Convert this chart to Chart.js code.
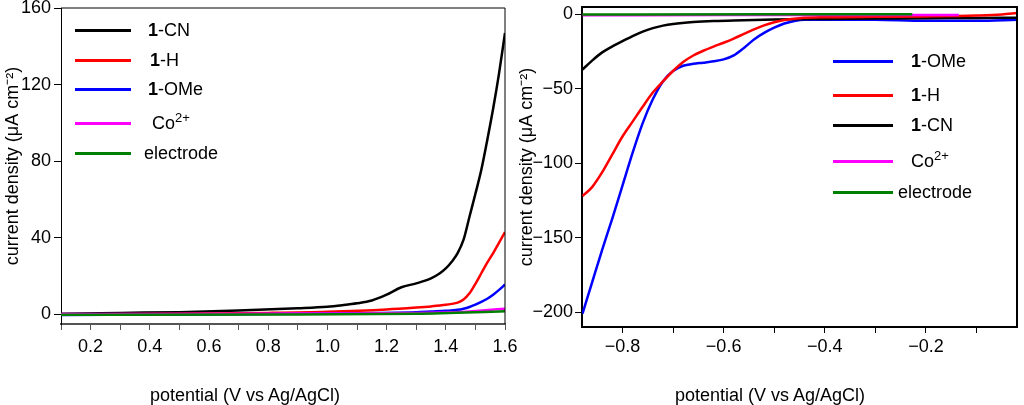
<!DOCTYPE html>
<html>
<head>
<meta charset="utf-8">
<script src="https://cdn.jsdelivr.net/npm/chart.js@4.4.1/dist/chart.umd.min.js"></script>
<style>
  html, body { margin: 0; padding: 0; background: #fff; }
  body { font-family: "Liberation Sans", Arial, sans-serif; color: #000; }
  #fig { position: relative; width: 1024px; height: 405px; overflow: hidden; }
  .panel { position: absolute; top: 0; height: 405px; }
  #pL { left: 0; width: 530px; }
  #pR { left: 500px; width: 524px; }
  .xtitle { position: absolute; top: 384px; font-size: 18px; line-height: 22px; white-space: nowrap; }
  .key { position: absolute; height: 22px; font-size: 18px; line-height: 22px; white-space: nowrap; }
  .key .sw { position: absolute; left: 0; top: 9.5px; height: 3px; }
  .key .tx { position: absolute; top: 0; }
  .key sup { font-size: 13px; line-height: 0; vertical-align: 7px; }
</style>
</head>
<body>
<div id="fig">
  <div class="panel" id="pL"><canvas id="cL"></canvas></div>
  <div class="panel" id="pR"><canvas id="cR"></canvas></div>
  <div class="xtitle" style="left:150px">potential (V vs Ag/AgCl)</div>
  <div class="xtitle" style="left:675px">potential (V vs Ag/AgCl)</div>
</div>
<script>
// left panel: anodic scans (potential in V, current density in uA cm-2)
const anPotCN = [0.1, 0.3, 0.5, 0.7, 0.9, 1.0, 1.05, 1.1, 1.15, 1.2, 1.25, 1.3, 1.35, 1.38, 1.4, 1.42, 1.44, 1.46, 1.48, 1.5, 1.52, 1.54, 1.56, 1.58, 1.6];
const anCurCN = [0.3, 0.8, 1.2, 2.0, 3.2, 4.0, 4.8, 5.8, 7.3, 10.3, 14.2, 16.2, 18.8, 21.5, 24, 27.5, 32, 39, 51, 63, 75.5, 91, 107.5, 126, 147];
const anPotH = [0.1, 0.5, 0.8, 1.0, 1.2, 1.3, 1.35, 1.4, 1.42, 1.44, 1.46, 1.48, 1.5, 1.52, 1.54, 1.56, 1.58, 1.6];
const anCurH = [0.0, 0.3, 0.8, 1.4, 2.6, 3.6, 4.2, 5.0, 5.5, 6.2, 7.8, 11, 16, 21.5, 27, 32, 37.5, 43];
const anPotOMe = [0.1, 0.6, 1.0, 1.3, 1.35, 1.4, 1.44, 1.46, 1.48, 1.5, 1.52, 1.54, 1.56, 1.58, 1.6];
const anCurOMe = [-0.3, 0.0, 0.5, 1.1, 1.5, 1.9, 2.4, 3.0, 3.9, 5.1, 6.5, 8.2, 10.3, 12.8, 15.6];
const anPotCo = [0.1, 0.8, 1.4, 1.6];
const anCurCo = [0.2, 0.4, 1.0, 3.0];
const anPotEl = [0.1, 0.8, 1.3, 1.6];
const anCurEl = [-0.2, 0.0, 0.3, 1.6];

// right panel: cathodic scans
const caPotOMe = [-0.879, -0.86, -0.84, -0.82, -0.8, -0.78, -0.76, -0.74, -0.72, -0.7, -0.68, -0.66, -0.64, -0.62, -0.6, -0.58, -0.56, -0.54, -0.52, -0.5, -0.48, -0.46, -0.44, -0.4, -0.3, -0.2, -0.1, -0.02];
const caCurOMe = [-201, -180, -158, -137, -115, -93, -73, -57, -45, -38, -34.5, -33.2, -32.4, -31.5, -30.2, -27.5, -22.5, -16.8, -12.4, -8.9, -6.1, -4.4, -3.6, -3.5, -3.6, -4.3, -4.2, -3.6];
const caPotH = [-0.879, -0.86, -0.84, -0.82, -0.8, -0.78, -0.76, -0.74, -0.72, -0.7, -0.68, -0.66, -0.64, -0.62, -0.6, -0.58, -0.56, -0.54, -0.52, -0.5, -0.48, -0.45, -0.4, -0.3, -0.2, -0.1, -0.05, -0.02];
const caCurH = [-122, -116, -106, -94, -82, -72, -62, -52.5, -45, -38, -32, -27.6, -24.4, -21.6, -19, -16.2, -13.1, -10, -7.3, -5.2, -3.7, -2.5, -1.9, -1.6, -1.3, -0.7, 0, 1];
const caPotCN = [-0.879, -0.86, -0.84, -0.82, -0.8, -0.78, -0.76, -0.74, -0.72, -0.7, -0.66, -0.62, -0.56, -0.5, -0.4, -0.3, -0.2, -0.1, -0.02];
const caCurCN = [-37, -31, -25.5, -21.5, -18, -14.5, -11.5, -9.2, -7.5, -6.4, -5.1, -4.4, -3.9, -3.4, -3.0, -2.7, -2.5, -2.4, -2.2];
const caPotCo = [-0.879, -0.6, -0.3, -0.135];
const caCurCo = [-0.6, -0.4, -0.3, -0.3];
const caPotEl = [-0.879, -0.5, -0.227];
const caCurEl = [0, 0.1, 0.1];

// tick labels
const anXLabels = [0.2, 0.4, 0.6, 0.8, 1.0, 1.2, 1.4, 1.6];
const anYTicks = [0, 40, 80, 120, 160];
const caXLabels = [-0.8, -0.6, -0.4, -0.2];
const caYTicks = [-200, -150, -100, -50, 0];

const anLegend = ['1-CN', '1-H', '1-OMe', 'Co2+', 'electrode'];
const caLegend = ['1-OMe', '1-H', '1-CN', 'Co2+', 'electrode'];

const COLORS = { '1-CN': '#000000', '1-H': '#ff0000', '1-OMe': '#0000ff', 'Co2+': '#ff00ff', 'electrode': '#008000' };
const FONT = { family: '"Liberation Sans", Arial, sans-serif', size: 18 };
const YTITLE = 'current density (\u03bcA cm\u207b\u00b2)';

const minus = s => s.replace('-', '\u2212');

function series(name, xs, ys) {
  return {
    label: name,
    data: xs.map((x, i) => ({ x: x, y: ys[i] })),
    borderColor: COLORS[name],
    backgroundColor: COLORS[name],
    borderWidth: 2.5,
    pointRadius: 0,
    fill: false,
    cubicInterpolationMode: 'monotone'
  };
}

// top and right edges of the box round the plot
const framePlugin = {
  id: 'frame',
  afterDraw(chart, args, o) {
    const ctx = chart.ctx, a = chart.chartArea;
    ctx.save();
    ctx.strokeStyle = o.color;
    ctx.lineWidth = o.width;
    ctx.beginPath();
    ctx.moveTo(a.left, a.top);
    ctx.lineTo(a.right, a.top);
    ctx.lineTo(a.right, a.bottom);
    ctx.stroke();
    ctx.restore();
  }
};

// a tick every 0.1 V, labels only on the listed ones
function tenthTicks(s) {
  const out = [];
  for (let k = Math.ceil(s.min * 10 - 1e-9); k <= Math.floor(s.max * 10 + 1e-9); k++) out.push({ value: k / 10 });
  s.ticks = out;
}

function buildChart(id, datasets, c) {
  return new Chart(document.getElementById(id), {
    type: 'line',
    data: { datasets: datasets },
    plugins: [framePlugin],
    options: {
      responsive: true,
      maintainAspectRatio: false,
      animation: false,
      layout: { padding: c.pad },
      plugins: {
        legend: { display: false },
        tooltip: { enabled: false },
        frame: { color: '#000', width: c.frameW }
      },
      scales: {
        x: {
          type: 'linear',
          min: c.xMin,
          max: c.xMax,
          border: { color: c.xBorder, width: c.xBorderW },
          grid: { drawOnChartArea: false, tickLength: 6, tickColor: c.xBorder, tickWidth: 1 },
          ticks: {
            autoSkip: false,
            maxRotation: 0,
            padding: c.xPad,
            color: '#000',
            font: FONT,
            callback: v => c.xLabels.some(l => Math.abs(l - v) < 1e-6) ? minus(v.toFixed(1)) : ''
          },
          afterBuildTicks: tenthTicks,
          afterFit: s => { s.height = c.xH; s.paddingLeft = 0; s.paddingRight = 0; }
        },
        y: {
          type: 'linear',
          min: c.yMin,
          max: c.yMax,
          border: { color: '#000', width: c.yBorderW },
          grid: { drawOnChartArea: false, tickLength: 7, tickColor: '#000', tickWidth: 1 },
          ticks: {
            autoSkip: false,
            padding: c.yPad,
            color: '#000',
            font: FONT,
            callback: v => minus(String(v))
          },
          afterBuildTicks: s => { s.ticks = c.yTicks.map(v => ({ value: v })); },
          afterFit: s => { s.width = c.yW; s.paddingTop = 0; s.paddingBottom = 0; },
          title: { display: true, text: YTITLE, color: '#000', font: FONT, padding: { top: c.yTitlePad, bottom: 0 } }
        }
      }
    }
  });
}

buildChart('cL', [
  series('electrode', anPotEl, anCurEl),
  series('Co2+', anPotCo, anCurCo),
  series('1-OMe', anPotOMe, anCurOMe),
  series('1-H', anPotH, anCurH),
  series('1-CN', anPotCN, anCurCN)
], {
  pad: { left: 0, right: 25, top: 8, bottom: 0 },
  xMin: 0.1, xMax: 1.6, yMin: -5, yMax: 160,
  xLabels: anXLabels, yTicks: anYTicks,
  xBorder: '#555', xBorderW: 2, yBorderW: 1, frameW: 1,
  xPad: 6, yPad: 3, xH: 81, yW: 61, yTitlePad: 2
});

buildChart('cR', [
  series('electrode', caPotEl, caCurEl),
  series('Co2+', caPotCo, caCurCo),
  series('1-H', caPotH, caCurH),
  series('1-CN', caPotCN, caCurCN),
  series('1-OMe', caPotOMe, caCurOMe)
], {
  pad: { left: 0, right: 7, top: 7, bottom: 0 },
  xMin: -0.88, xMax: -0.02, yMin: -210, yMax: 5,
  xLabels: caXLabels, yTicks: caYTicks,
  xBorder: '#000', xBorderW: 2, yBorderW: 2, frameW: 2,
  xPad: 3, yPad: 2, xH: 78, yW: 82, yTitlePad: 16
});

// legends, written as html so the bold "1" and the superscript stay real text
function keyHtml(name) {
  if (name.indexOf('1-') === 0) return '<b>1</b>-' + name.slice(2);
  if (name === 'Co2+') return 'Co<sup>2+</sup>';
  return name;
}

function addLegend(names, lineX, lineW, rowY, textX) {
  const fig = document.getElementById('fig');
  names.forEach((name, i) => {
    const row = document.createElement('div');
    row.className = 'key';
    row.style.left = lineX + 'px';
    row.style.top = (rowY[i] - 11) + 'px';
    row.innerHTML = '<span class="sw" style="width:' + lineW + 'px;background:' + COLORS[name] + '"></span>' +
      '<span class="tx" style="left:' + (textX[i] - lineX) + 'px">' + keyHtml(name) + '</span>';
    fig.appendChild(row);
  });
}

addLegend(anLegend, 75, 56, [30, 60, 89, 123, 153], [148, 150, 148, 152, 144]);
addLegend(caLegend, 833, 60, [61, 95, 125, 161, 192], [911, 911, 911, 911, 898]);
</script>
</body>
</html>
